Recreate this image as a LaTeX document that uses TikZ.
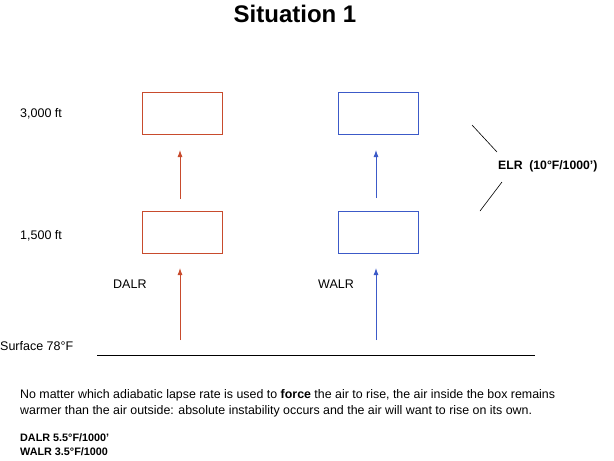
\documentclass[tikz,border=0pt]{standalone}
\usepackage{fontspec}
\setmainfont{Liberation Sans}
\usetikzlibrary{arrows.meta}
\begin{document}
\begin{tikzpicture}[x=1pt,y=-1pt,
  rbox/.style={draw=redc,line width=0.9pt},
  bbox/.style={draw=bluec,line width=0.9pt},
  rarr/.style={draw=redc,line width=0.9pt,-{Latex[length=7pt,width=5pt]}},
  barr/.style={draw=bluec,line width=0.9pt,-{Latex[length=7pt,width=5pt]}},
  lbl/.style={font=\fontsize{12.5}{14}\selectfont,inner sep=0pt}]
\definecolor{redc}{RGB}{200,75,45}
\definecolor{bluec}{RGB}{60,90,200}
\useasboundingbox (0,0) rectangle (614,461);
\node[font=\fontsize{24}{26}\selectfont\bfseries] (t) at (295,14) {Situation 1};
\node[rbox,minimum width=80pt,minimum height=42pt] (r2) at (182,113) {};
\node[rbox,minimum width=80pt,minimum height=42pt] (r1) at (182,232) {};
\node[bbox,minimum width=80pt,minimum height=42pt] (b2) at (378,113) {};
\node[bbox,minimum width=80pt,minimum height=42pt] (b1) at (378,232) {};
\coordinate (ra) at (180,199); \coordinate (rb) at (180,150);
\coordinate (rc) at (180,340); \coordinate (rd) at (180,268);
\coordinate (ba) at (376,198); \coordinate (bb) at (376,150);
\coordinate (bc) at (376,340); \coordinate (bd) at (376,268);
\draw[rarr] (ra) -- (rb); \draw[rarr] (rc) -- (rd);
\draw[barr] (ba) -- (bb); \draw[barr] (bc) -- (bd);
\node[lbl,anchor=west] (l3) at (20,114) {3,000 ft};
\node[lbl,anchor=west] (l1) at (20,236) {1,500 ft};
\node[lbl,anchor=west] (d) at (113,284) {DALR};
\node[lbl,anchor=west] (w) at (318,284) {WALR};
\node[lbl,anchor=west] (s) at (0,346) {Surface 78°F};
\coordinate (g1) at (97,355); \coordinate (g2) at (535,355);
\draw[line width=0.6pt] (g1) -- (g2);
\node[lbl,anchor=west,font=\fontsize{12.2}{14}\selectfont\bfseries] (e) at (498,166) {ELR\ \ (10°F/1000’)};
\coordinate (e1) at (472,125); \coordinate (e2) at (497,152);
\coordinate (e3) at (480,211); \coordinate (e4) at (502,182);
\draw[line width=0.6pt] (e1) -- (e2); \draw[line width=0.6pt] (e3) -- (e4);
\node[lbl,anchor=west,font=\fontsize{12.4}{14}\selectfont] (p1) at (20,395) {No matter which adiabatic lapse rate is used to \textbf{force} the air to rise, the air inside the box remains};
\node[lbl,anchor=west,font=\fontsize{12.4}{14}\selectfont] (p2) at (20,411) {warmer than the air outside: absolute instability occurs and the air will want to rise on its own.};
\node[lbl,anchor=west,font=\fontsize{10.8}{12}\selectfont\bfseries] (q1) at (20,438) {DALR 5.5°F/1000’};
\node[lbl,anchor=west,font=\fontsize{10.8}{12}\selectfont\bfseries] (q2) at (20,452) {WALR 3.5°F/1000};
\end{tikzpicture}
\end{document}
